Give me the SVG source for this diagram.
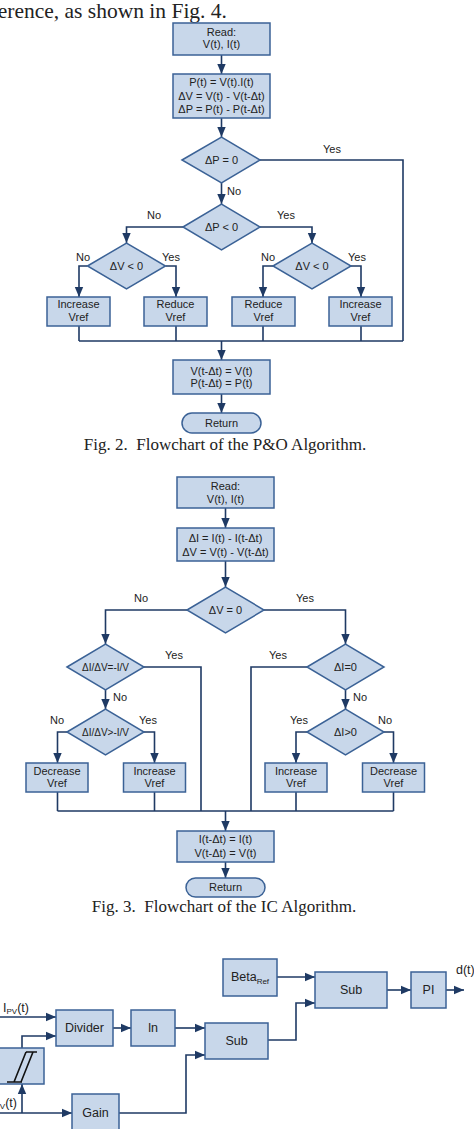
<svg xmlns="http://www.w3.org/2000/svg" width="474" height="1129" viewBox="0 0 474 1129">
<defs>
<marker id="ah" markerUnits="userSpaceOnUse" markerWidth="10" markerHeight="10" viewBox="0 0 10 10" refX="10" refY="5" orient="auto">
<path d="M0,0.8 L10,5 L0,9.2 Z" fill="#1f3a64"/>
</marker>
<style>
.b{fill:#c8d7ea;stroke:#3b6296;stroke-width:1.5}
.c{fill:none;stroke:#1f3a64;stroke-width:1.6}
.a{fill:none;stroke:#1f3a64;stroke-width:1.6;marker-end:url(#ah)}
.t{font-family:"Liberation Sans",Arial,sans-serif;font-size:11px;fill:#222;text-anchor:middle}
.l{font-family:"Liberation Sans",Arial,sans-serif;font-size:11px;fill:#222;text-anchor:middle}
.s{font-family:"Liberation Sans",Arial,sans-serif;font-size:10px;fill:#222;text-anchor:middle}
.k{font-family:"Liberation Sans",Arial,sans-serif;font-size:12.5px;fill:#222;text-anchor:middle}
.cap{font-family:"Liberation Serif","Times New Roman",serif;font-size:17px;fill:#222;text-anchor:middle}
</style>
</defs>
<rect width="474" height="1129" fill="#fff"/>
<text x="227" y="17.5" font-family="Liberation Serif,serif" font-size="21.5" fill="#222" text-anchor="end">ference, as shown in Fig. 4.</text>

<g id="connectors">
<!-- Fig 2 -->
<path class="a" d="M221.5,55 V74"/>
<path class="a" d="M221.5,118 V137"/>
<path class="c" d="M260,160 H403 V341"/>
<path class="a" d="M221.5,183 V204"/>
<path class="a" d="M183,227 H126.5 V243"/>
<path class="a" d="M260,227 H312 V243"/>
<path class="a" d="M87.5,266 H79 V297"/>
<path class="a" d="M165.5,266 H176 V297"/>
<path class="a" d="M273,266 H263 V297"/>
<path class="a" d="M351,266 H361 V297"/>
<path class="c" d="M79,326 V341 M176,326 V341 M263,326 V341 M361,326 V341 M79,341 H403"/>
<path class="a" d="M221.5,341 V360"/>
<path class="a" d="M221.5,394 V413"/>
<!-- Fig 3 -->
<path class="a" d="M225.5,508 V528"/>
<path class="a" d="M225.5,561 V587"/>
<path class="a" d="M187,610 H105.5 V644"/>
<path class="a" d="M264,610 H345.5 V644"/>
<path class="c" d="M144,667 H201 V811"/>
<path class="c" d="M307,667 H251 V811"/>
<path class="a" d="M105.5,690 V709"/>
<path class="a" d="M345.5,690 V709"/>
<path class="a" d="M67,732 H57.5 V763"/>
<path class="a" d="M144,732 H154.5 V763"/>
<path class="a" d="M307,732 H296 V763"/>
<path class="a" d="M384,732 H393.5 V763"/>
<path class="c" d="M57.5,792 V811 M154.5,792 V811 M296,792 V811 M393.5,792 V811 M57.5,811 H393.5"/>
<path class="a" d="M225.5,811 V831"/>
<path class="a" d="M225.5,862 V878"/>
<!-- block diagram -->
<path class="a" d="M277,977 H315"/>
<path class="a" d="M387,990 H411"/>
<path class="a" d="M446,990 H464"/>
<path class="a" d="M0,1017 H56"/>
<path class="a" d="M22,1048 V1036 H56"/>
<path class="a" d="M113,1028 H131"/>
<path class="a" d="M175,1028 H205"/>
<path class="a" d="M119,1113 H186 V1055 H205"/>
<path class="a" d="M268,1040 H296 V1003 H315"/>
<path class="a" d="M0,1113 H72"/>
<path class="a" d="M22,1113 V1084"/>
</g>

<!-- connector labels -->
<g id="labels">
<text class="l" x="332" y="153">Yes</text>
<text class="l" x="234" y="195">No</text>
<text class="l" x="154" y="219">No</text>
<text class="l" x="286" y="219">Yes</text>
<text class="l" x="83" y="261">No</text>
<text class="l" x="171" y="261">Yes</text>
<text class="l" x="268" y="261">No</text>
<text class="l" x="357" y="261">Yes</text>
<text class="l" x="141" y="602">No</text>
<text class="l" x="305" y="602">Yes</text>
<text class="l" x="174" y="659">Yes</text>
<text class="l" x="278" y="659">Yes</text>
<text class="l" x="120" y="701">No</text>
<text class="l" x="360" y="701">No</text>
<text class="l" x="57" y="724">No</text>
<text class="l" x="148" y="724">Yes</text>
<text class="l" x="299" y="724">Yes</text>
<text class="l" x="385" y="724">No</text>
</g>

<!-- Fig 2 nodes -->
<g id="read1"><rect class="b" x="173" y="23" width="97" height="32"/><text class="t" x="221.5" y="36">Read:</text><text class="t" x="221.5" y="48">V(t), I(t)</text></g>
<g id="calc1"><rect class="b" x="173" y="74" width="97" height="44"/><text class="t" x="221.5" y="86">P(t) = V(t).I(t)</text><text class="t" x="221.5" y="100">ΔV = V(t) - V(t-Δt)</text><text class="t" x="221.5" y="113">ΔP = P(t) - P(t-Δt)</text></g>
<g id="dP0"><polygon class="b" points="182,160 221.5,137 260,160 221.5,183"/><text class="t" x="221.5" y="164">ΔP = 0</text></g>
<g id="dPlt0"><polygon class="b" points="183,227 221.5,204 260,227 221.5,250"/><text class="t" x="221.5" y="231">ΔP &lt; 0</text></g>
<g id="dVL"><polygon class="b" points="87.5,266 126.5,243 165.5,266 126.5,289"/><text class="t" x="126.5" y="270">ΔV &lt; 0</text></g>
<g id="dVR"><polygon class="b" points="273,266 312,243 351,266 312,289"/><text class="t" x="312" y="270">ΔV &lt; 0</text></g>
<g id="inc1"><rect class="b" x="47" y="297" width="63" height="29"/><text class="t" x="78.5" y="308">Increase</text><text class="t" x="78.5" y="321">Vref</text></g>
<g id="red1"><rect class="b" x="144" y="297" width="63" height="29"/><text class="t" x="175.5" y="308">Reduce</text><text class="t" x="175.5" y="321">Vref</text></g>
<g id="red2"><rect class="b" x="232" y="297" width="63" height="29"/><text class="t" x="263.5" y="308">Reduce</text><text class="t" x="263.5" y="321">Vref</text></g>
<g id="inc2"><rect class="b" x="329" y="297" width="63" height="29"/><text class="t" x="360.5" y="308">Increase</text><text class="t" x="360.5" y="321">Vref</text></g>
<g id="upd1"><rect class="b" x="173" y="360" width="97" height="34"/><text class="t" x="221.5" y="375">V(t-Δt) = V(t)</text><text class="t" x="221.5" y="387">P(t-Δt) = P(t)</text></g>
<g id="ret1"><rect class="b" x="182" y="413" width="79" height="20" rx="10"/><text class="t" x="221.5" y="427">Return</text></g>
<text class="cap" x="225" y="450" xml:space="preserve">Fig. 2.  Flowchart of the P&amp;O Algorithm.</text>

<!-- Fig 3 nodes -->
<g id="read2"><rect class="b" x="177" y="477" width="97" height="31"/><text class="t" x="225.5" y="490">Read:</text><text class="t" x="225.5" y="503">V(t), I(t)</text></g>
<g id="calc2"><rect class="b" x="177" y="528" width="97" height="33"/><text class="t" x="225.5" y="541.5">ΔI = I(t) - I(t-Δt)</text><text class="t" x="225.5" y="555.5">ΔV = V(t) - V(t-Δt)</text></g>
<g id="dV0"><polygon class="b" points="187,610 225.5,587 264,610 225.5,633"/><text class="t" x="225.5" y="614">ΔV = 0</text></g>
<g id="dIV"><polygon class="b" points="67,667 105.5,644 144,667 105.5,690"/><text class="s" x="105.5" y="671">ΔI/ΔV=-I/V</text></g>
<g id="dI0"><polygon class="b" points="307,667 345.5,644 384,667 345.5,690"/><text class="t" x="345.5" y="671">ΔI=0</text></g>
<g id="dIVg"><polygon class="b" points="67,732 105.5,709 144,732 105.5,755"/><text class="s" x="105.5" y="736">ΔI/ΔV&gt;-I/V</text></g>
<g id="dIg"><polygon class="b" points="307,732 345.5,709 384,732 345.5,755"/><text class="t" x="345.5" y="736">ΔI&gt;0</text></g>
<g id="dec3"><rect class="b" x="26" y="763" width="62" height="29"/><text class="t" x="57" y="774.5">Decrease</text><text class="t" x="57" y="786.5">Vref</text></g>
<g id="inc3"><rect class="b" x="123.5" y="763" width="62" height="29"/><text class="t" x="154.5" y="774.5">Increase</text><text class="t" x="154.5" y="786.5">Vref</text></g>
<g id="inc4"><rect class="b" x="265" y="763" width="62" height="29"/><text class="t" x="296" y="774.5">Increase</text><text class="t" x="296" y="786.5">Vref</text></g>
<g id="dec4"><rect class="b" x="362.5" y="763" width="62" height="29"/><text class="t" x="393.5" y="774.5">Decrease</text><text class="t" x="393.5" y="786.5">Vref</text></g>
<g id="upd2"><rect class="b" x="177" y="831" width="97" height="31"/><text class="t" x="225.5" y="842.5">I(t-Δt) = I(t)</text><text class="t" x="225.5" y="856.5">V(t-Δt) = V(t)</text></g>
<g id="ret2"><rect class="b" x="186" y="878" width="79" height="19" rx="9.5"/><text class="t" x="225.5" y="891">Return</text></g>
<text class="cap" x="224" y="912" xml:space="preserve">Fig. 3.  Flowchart of the IC Algorithm.</text>

<!-- block diagram nodes -->
<g id="betaref"><rect class="b" x="223" y="959" width="54" height="37"/><text class="k" x="250" y="981">Beta<tspan font-size="8" dy="3">Ref</tspan></text></g>
<g id="sub2"><rect class="b" x="315" y="972" width="72" height="36"/><text class="k" x="351" y="994">Sub</text></g>
<g id="pi"><rect class="b" x="411" y="972" width="35" height="36"/><text class="k" x="428.5" y="994">PI</text></g>
<text class="k" x="456" y="974" style="text-anchor:start">d(t)</text>
<g id="divider"><rect class="b" x="56" y="1010" width="57" height="36"/><text class="k" x="84.5" y="1032">Divider</text></g>
<g id="ln"><rect class="b" x="131" y="1010" width="44" height="36"/><text class="k" x="153" y="1032">ln</text></g>
<g id="sub1"><rect class="b" x="205" y="1023" width="63" height="36"/><text class="k" x="236.5" y="1045">Sub</text></g>
<g id="relay"><rect class="b" x="-10" y="1048" width="54" height="36"/><path d="M7,1082 H22 M14,1082 L26,1052 M21,1082 L33,1052 M26,1052 H37" fill="none" stroke="#111" stroke-width="1.6"/></g>
<g id="gain"><rect class="b" x="72" y="1094" width="47" height="45"/><text class="k" x="95.5" y="1117">Gain</text></g>
<text class="k" x="3" y="1012" style="text-anchor:start">I<tspan font-size="8" dy="2">PV</tspan><tspan dy="-2">(t)</tspan></text>
<text class="k" x="17" y="1107" style="text-anchor:end">V<tspan font-size="8" dy="2">PV</tspan><tspan dy="-2">(t)</tspan></text>
</svg>
